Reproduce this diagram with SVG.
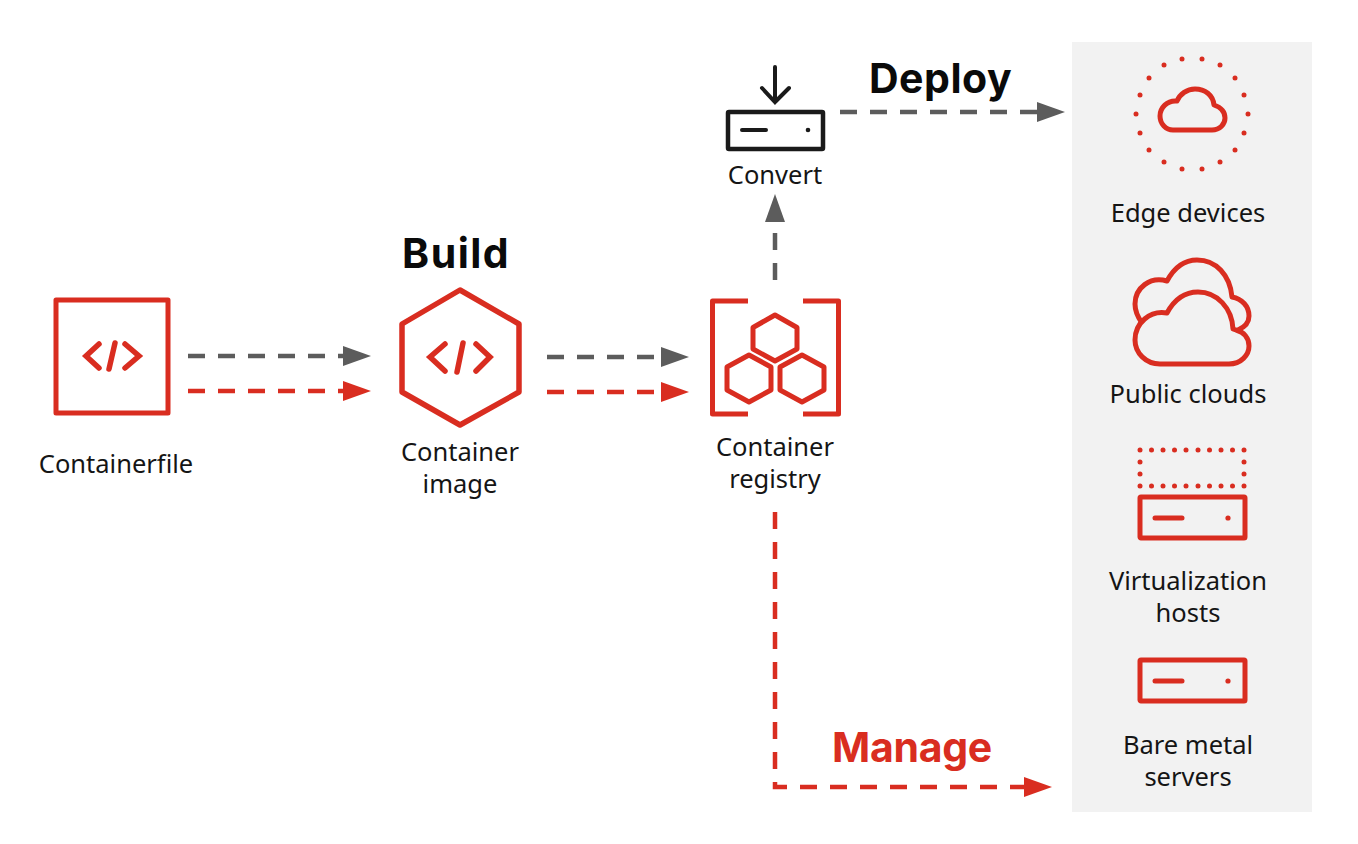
<svg xmlns="http://www.w3.org/2000/svg" width="1358" height="844" viewBox="0 0 1358 844">
<defs>
<marker id="hg" markerUnits="userSpaceOnUse" markerWidth="28" markerHeight="22" refX="0" refY="11" orient="auto"><path d="M0 1L28 11L0 21Z" fill="#5c5c5c"/></marker>
<marker id="hr" markerUnits="userSpaceOnUse" markerWidth="28" markerHeight="22" refX="0" refY="11" orient="auto"><path d="M0 1L28 11L0 21Z" fill="#d92d20"/></marker>
<g id="srv"><rect x="1" y="0" width="105" height="41" rx="1" class="ln"/><path d="M16 21H43" class="ln" stroke-linecap="round"/><circle cx="89" cy="21" r="2.6" fill="#d92d20"/></g>
</defs>
<style>
.ln{fill:none;stroke:#d92d20;stroke-width:5;stroke-linejoin:round}
.code{fill:none;stroke:#d92d20;stroke-width:5.500;stroke-linecap:round;stroke-linejoin:miter}
.g{fill:none;stroke:#5c5c5c;stroke-width:4.500;stroke-dasharray:17 13;marker-end:url(#hg)}
.r{fill:none;stroke:#d92d20;stroke-width:4.500;stroke-dasharray:17 13;marker-end:url(#hr)}
.t{font-family:"Noto Sans","Lato",sans-serif;font-size:25.500px;fill:#151515;text-anchor:middle;font-variant-ligatures:none}
.h{font-family:"Inter","Noto Sans",sans-serif;font-weight:700;font-size:41px;fill:#0a0a0a}
.d{fill:#d92d20}
</style>
<rect x="1072" y="42" width="240" height="770" fill="#f2f2f2"/>
<g id="connectors">
<path class="g" d="M188 356H343"/><path class="r" d="M188 391H343"/>
<path class="g" d="M547 357H661"/><path class="r" d="M547 392H661"/>
<path class="g" d="M775 280V222"/>
<path class="g" d="M840 112H1037"/>
<path class="r" d="M775 512V787H1024"/>
</g>
<g id="containerfile">
<rect x="56" y="300" width="112" height="113" class="ln"/>
<path class="code" d="M99 344L86 356L99 368M115 343L109 369M125 344L139 356L125 368"/>
<text class="t" x="116" y="473">Containerfile</text>
</g>
<g id="container-image">
<path class="ln" style="stroke-width:5.500" d="M460 290L519 324V392L460 425L402 392V324Z"/>
<path class="code" d="M445 344L430 357L445 371M463 343L457 372M476 344L490 357L476 371"/>
<text class="t" x="460" y="461">Container</text><text class="t" x="460" y="493">image</text>
<text class="h" x="402" y="268" style="letter-spacing:1.500px">Build</text>
</g>
<g id="container-registry">
<path class="ln" d="M748 301H712.500V414H748M803 301H838.500V414H803"/>
<path class="ln" d="M775 315L797 327.500V349L775 361L753 349V327.500Z"/>
<path class="ln" d="M749 355L771 367V390L749 402L727 390V367Z"/>
<path class="ln" d="M802 355L824 367V390L802 402L780 390V367Z"/>
<text class="t" x="775" y="456">Container</text><text class="t" x="775" y="488">registry</text>
</g>
<g id="convert">
<rect x="728" y="112" width="95" height="37" rx="1" fill="none" stroke="#1a1a1a" stroke-width="4.500"/>
<path d="M742 130H766M775 67V102M762 88L775 102L789 88" fill="none" stroke="#1a1a1a" stroke-width="4" stroke-linecap="round"/>
<circle cx="808" cy="130" r="2.300" fill="#1a1a1a"/>
<text class="t" x="775" y="184">Convert</text>
<text class="h" x="869" y="93" style="letter-spacing:.5px">Deploy</text>
</g>
<g id="manage"><text class="h" x="832" y="762" style="fill:#d92d20;letter-spacing:-.3px">Manage</text></g>
<g id="edge-devices">
<g class="d"><circle cx="1182" cy="59" r="2.500"/><circle cx="1202" cy="59" r="2.500"/><circle cx="1220" cy="65" r="2.500"/><circle cx="1235" cy="78" r="2.500"/><circle cx="1244" cy="95" r="2.500"/><circle cx="1248" cy="114" r="2.500"/><circle cx="1244" cy="133" r="2.500"/><circle cx="1235" cy="150" r="2.500"/><circle cx="1220" cy="162" r="2.500"/><circle cx="1202" cy="169" r="2.500"/><circle cx="1182" cy="169" r="2.500"/><circle cx="1164" cy="162" r="2.500"/><circle cx="1149" cy="150" r="2.500"/><circle cx="1140" cy="133" r="2.500"/><circle cx="1136" cy="114" r="2.500"/><circle cx="1140" cy="95" r="2.500"/><circle cx="1149" cy="78" r="2.500"/><circle cx="1164" cy="65" r="2.500"/></g>
<path class="ln" d="M1173 130H1212C1220 130 1225 124 1225 118C1225 111 1220 107 1214 105C1213 95 1205 89 1195 89C1187 89 1180 94 1177 101C1167 100 1160 108 1160 116C1160 124 1166 130 1173 130Z"/>
<text class="t" x="1188" y="222">Edge devices</text>
</g>
<g id="public-clouds">
<path class="ln" d="M1160 364H1229C1241 364 1249 355 1249 346C1249 338 1244 332 1236 330L1233 329C1232 308 1217 292 1198 292C1184 292 1174 300 1167 313C1150 310 1135 323 1135 340C1135 353 1146 364 1160 364Z"/>
<path class="ln" d="M1142 323C1137 316 1135 311 1135 304C1135 288 1150 276 1167 281C1174 268 1184 260 1197 260C1216 260 1230 275 1232 297C1242 299 1249 306 1249 316C1249 322 1245 327 1238 330"/>
<text class="t" x="1188" y="403">Public clouds</text>
</g>
<g id="virtualization-hosts">
<g class="d"><circle cx="1140" cy="450" r="2.500"/><circle cx="1151.500" cy="450" r="2.500"/><circle cx="1163" cy="450" r="2.500"/><circle cx="1174.500" cy="450" r="2.500"/><circle cx="1186" cy="450" r="2.500"/><circle cx="1198" cy="450" r="2.500"/><circle cx="1209.500" cy="450" r="2.500"/><circle cx="1221" cy="450" r="2.500"/><circle cx="1232.500" cy="450" r="2.500"/><circle cx="1244" cy="450" r="2.500"/><circle cx="1140" cy="486" r="2.500"/><circle cx="1151.500" cy="486" r="2.500"/><circle cx="1163" cy="486" r="2.500"/><circle cx="1174.500" cy="486" r="2.500"/><circle cx="1186" cy="486" r="2.500"/><circle cx="1198" cy="486" r="2.500"/><circle cx="1209.500" cy="486" r="2.500"/><circle cx="1221" cy="486" r="2.500"/><circle cx="1232.500" cy="486" r="2.500"/><circle cx="1244" cy="486" r="2.500"/><circle cx="1140" cy="462" r="2.500"/><circle cx="1140" cy="474" r="2.500"/><circle cx="1244" cy="462" r="2.500"/><circle cx="1244" cy="474" r="2.500"/></g>
<use href="#srv" x="1139" y="497"/>
<text class="t" x="1188" y="590">Virtualization</text><text class="t" x="1188" y="622">hosts</text>
</g>
<g id="bare-metal">
<use href="#srv" x="1139" y="660"/>
<text class="t" x="1188" y="754">Bare metal</text><text class="t" x="1188" y="786">servers</text>
</g>
</svg>
